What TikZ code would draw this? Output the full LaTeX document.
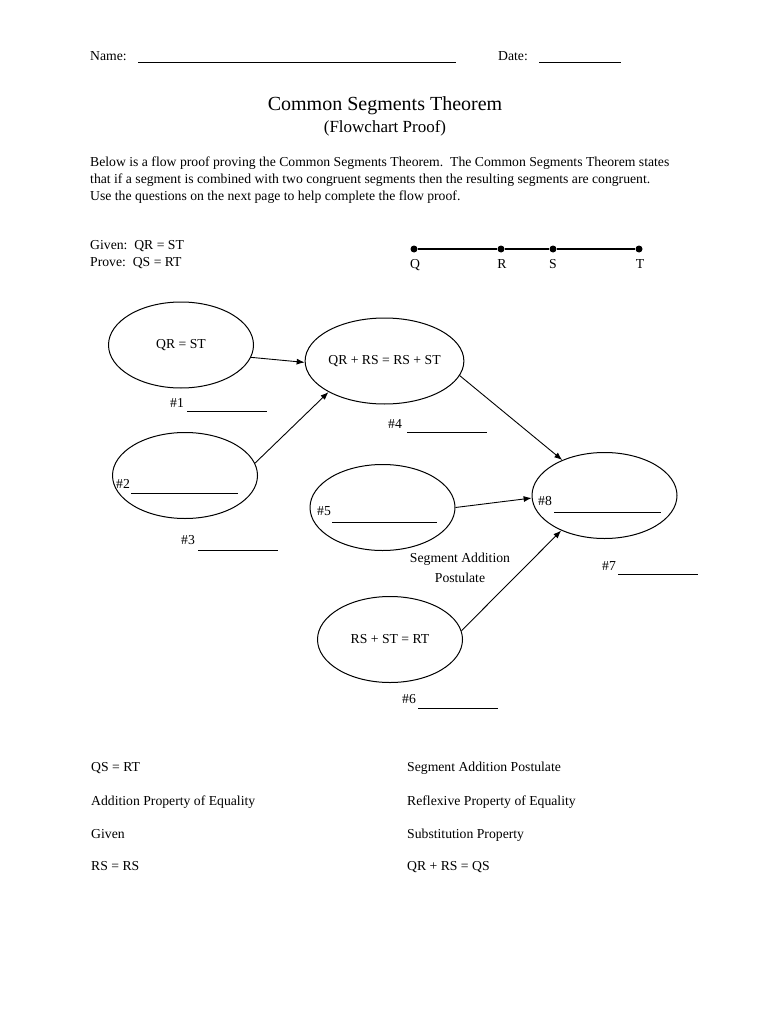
\documentclass[tikz,border=0pt]{standalone}
\usepackage{fontspec}
\setmainfont{Liberation Serif}
\usetikzlibrary{shapes.geometric,arrows.meta}
\begin{document}
\begin{tikzpicture}[x=1pt,y=-1pt,
  oval/.style={draw, ellipse, line width=1pt, minimum width=145pt, minimum height=86pt, inner sep=0pt, font=\fontsize{13.7}{17}\selectfont},
  lbl/.style={anchor=base west, inner sep=0pt, font=\fontsize{13.7}{17}\selectfont},
  blank/.style={anchor=west, inner sep=0pt},
  flow/.style={-{Latex[length=8pt,width=6pt]}, line width=0.9pt},
  pt/.style={circle, fill, inner sep=0pt, minimum size=7pt}]
\useasboundingbox (0,0) rectangle (770,1024);
\node[lbl] (name) at (90,61) {Name:};
\node[blank] (nameln) at (138,62) {\rule{318pt}{0.8pt}};
\node[lbl] (date) at (498,61) {Date:};
\node[blank] (dateln) at (539,62) {\rule{82pt}{0.8pt}};
\node[anchor=base, inner sep=0pt, font=\fontsize{20}{24}\selectfont] (title) at (385,111) {Common Segments Theorem};
\node[anchor=base, inner sep=0pt, font=\fontsize{17}{20}\selectfont] (subtitle) at (385,133) {(Flowchart Proof)};
\node[lbl] (par1) at (90,167) {Below is a flow proof proving the Common Segments Theorem.\ \ The Common Segments Theorem states};
\node[lbl] (par2) at (90,184) {that if a segment is combined with two congruent segments then the resulting segments are congruent.};
\node[lbl] (par3) at (90,201) {Use the questions on the next page to help complete the flow proof.};
\node[lbl] (given) at (90,249) {Given:\ \ QR = ST};
\node[lbl] (prove) at (90,266) {Prove:\ \ QS = RT};
\node[pt] (q) at (414,249) {};
\node[pt] (r) at (501,249) {};
\node[pt] (s) at (553,249) {};
\node[pt] (t) at (639,249) {};
\draw[line width=1.1pt] (q) -- (r);
\draw[line width=1.5pt] (r) -- (s);
\draw[line width=1.1pt] (s) -- (t);
\node[anchor=base, inner sep=0pt, font=\fontsize{13.7}{17}\selectfont] (ql) at (415,268) {Q};
\node[anchor=base, inner sep=0pt, font=\fontsize{13.7}{17}\selectfont] (rl) at (502,268) {R};
\node[anchor=base, inner sep=0pt, font=\fontsize{13.7}{17}\selectfont] (sl) at (553,268) {S};
\node[anchor=base, inner sep=0pt, font=\fontsize{13.7}{17}\selectfont] (tl) at (640,268) {T};
\node[oval] (e1) at (181,345) {QR = ST};
\node[oval] (e4) at (384.5,361) {QR + RS = RS + ST};
\node[oval] (e2) at (185,475.5) {};
\node[oval] (e5) at (382.5,507.5) {};
\node[oval] (e8) at (604.5,495.5) {};
\node[oval] (e6) at (390,639.5) {RS + ST = RT};
\draw[flow] (e1.-10) -- (e4.181);
\draw[flow] (e2.10) -- (e4.209);
\draw[flow] (e4.-11.5) -- (e8.140);
\draw[flow] (e5.0) -- (e8.182);
\draw[flow] (e6.7) -- (e8.219);
\node[lbl] (n1) at (170,407.5) {\#1};
\node[blank] (b1) at (187,411.5) {\rule{80pt}{0.8pt}};
\node[lbl] (n2) at (116,488) {\#2};
\node[blank] (b2) at (131,493) {\rule{107pt}{0.8pt}};
\node[lbl] (n3) at (181,544) {\#3};
\node[blank] (b3) at (198,550) {\rule{80pt}{0.8pt}};
\node[lbl] (n4) at (388,428) {\#4};
\node[blank] (b4) at (407,432.5) {\rule{80pt}{0.8pt}};
\node[lbl] (n5) at (317,515) {\#5};
\node[blank] (b5) at (332,522) {\rule{105pt}{0.8pt}};
\node[lbl] (n8) at (538,505) {\#8};
\node[blank] (b8) at (554,512) {\rule{107pt}{0.8pt}};
\node[lbl] (n7) at (602,570) {\#7};
\node[blank] (b7) at (618,574.5) {\rule{80pt}{0.8pt}};
\node[lbl] (n6) at (402,703) {\#6};
\node[blank] (b6) at (418,708.5) {\rule{80pt}{0.8pt}};
\node[align=center, inner sep=0pt, font=\fontsize{13.7}{20}\selectfont] (sap) at (460,568) {Segment Addition\\Postulate};
\node[lbl] (c1) at (91,771) {QS = RT};
\node[lbl] (c2) at (91,805) {Addition Property of Equality};
\node[lbl] (c3) at (91,838) {Given};
\node[lbl] (c4) at (91,870) {RS = RS};
\node[lbl] (c5) at (407,771) {Segment Addition Postulate};
\node[lbl] (c6) at (407,805) {Reflexive Property of Equality};
\node[lbl] (c7) at (407,838) {Substitution Property};
\node[lbl] (c8) at (407,870) {QR + RS = QS};
\end{tikzpicture}
\end{document}
